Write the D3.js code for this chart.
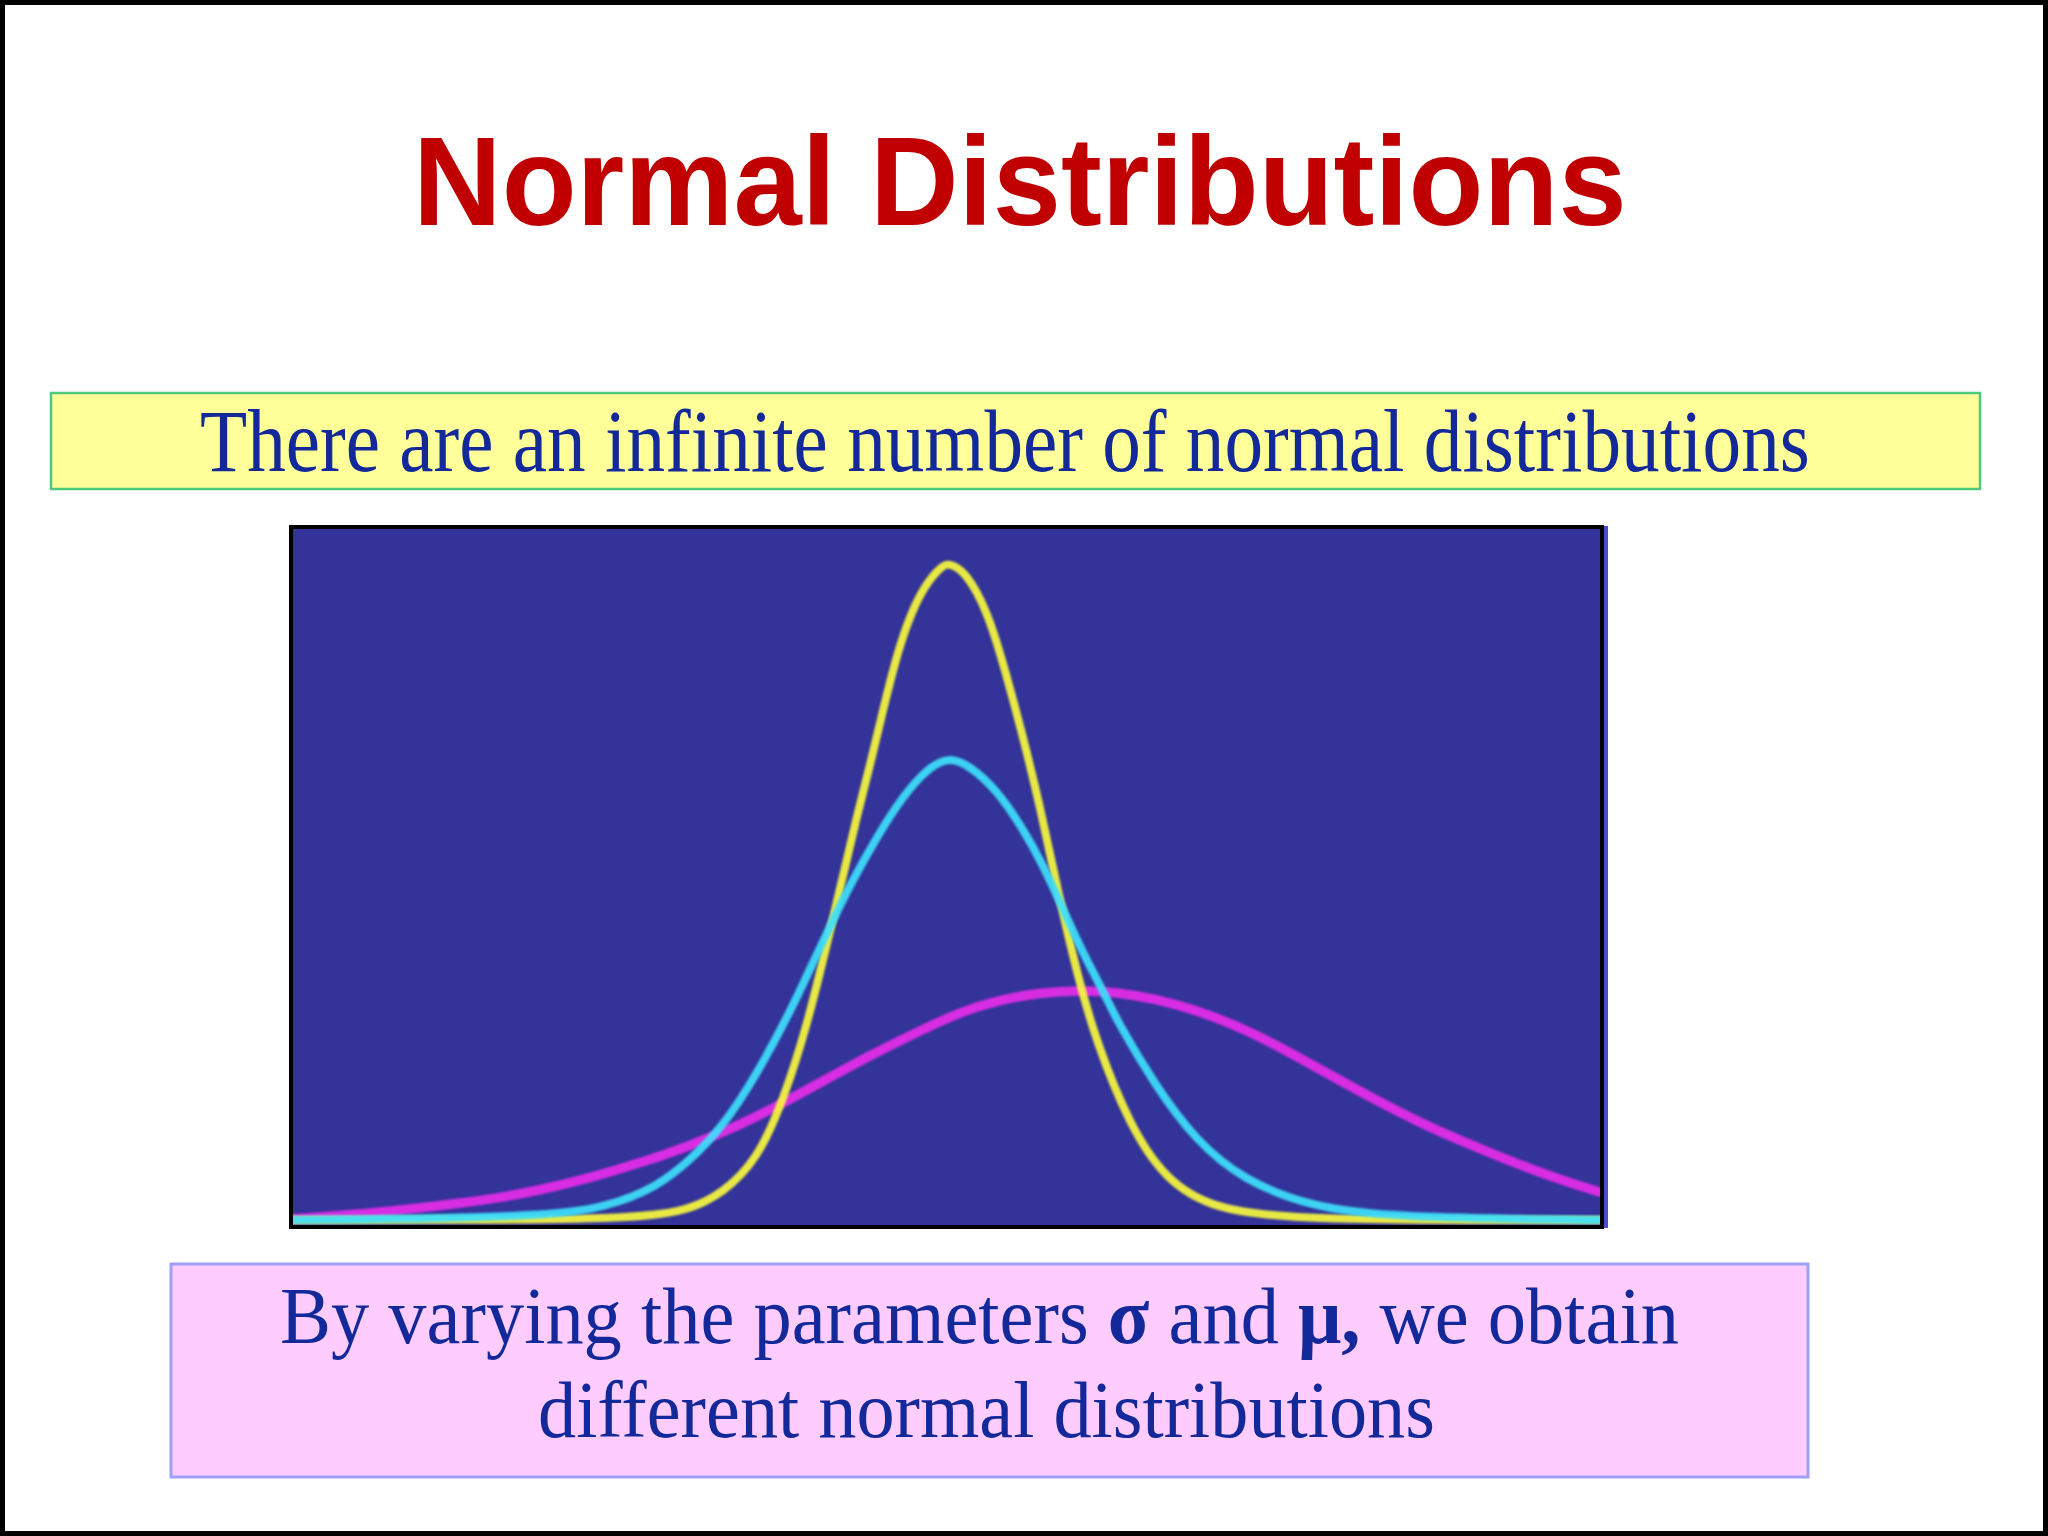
<!DOCTYPE html>
<html>
<head>
<meta charset="utf-8">
<script src="https://cdnjs.cloudflare.com/ajax/libs/d3/7.8.5/d3.min.js"></script>
<style>
  body { margin: 0; background: #fff; }
</style>
</head>
<body>
<div id="slide"></div>
<script>

var title = "Normal Distributions";
var topNote = "There are an infinite number of normal distributions";
var bottomNote1 = ["By varying the parameters ", "σ", " and ", "μ,", " we obtain"];
var bottomNote2 = "different normal distributions";

// curves, x and height both in 0..100
var yellowX = [0, 16, 26.7, 30.5, 33.0, 35.6, 37.6, 39.4, 41.2, 42.2, 43.2, 44.2, 45.2, 46.1, 47.1, 48.4, 49.7, 50.2, 51.5, 53.2, 54.5, 55.8, 57.2, 58.5, 60.1, 61.5, 64.0, 66.7, 70.5, 76.4, 85, 100];
var yellowY = [0, 0, 0.3, 1.5, 4.0, 8.8, 17.6, 28.4, 42.8, 51.0, 59.3, 66.8, 75.0, 82.0, 88.2, 93.5, 96.2, 96.6, 95.4, 89.4, 80.9, 71.6, 60.6, 48.5, 35.3, 26.0, 13.9, 5.9, 1.5, 0.3, 0, 0];

var cyanX = [0, 19.1, 24.2, 28.0, 30.5, 33.0, 35.6, 38.1, 39.9, 41.6, 42.9, 44.5, 46.1, 48.1, 50.1, 51.8, 53.8, 55.8, 57.5, 58.8, 60.4, 62.1, 63.0, 66.0, 69.0, 72.6, 77.9, 83.8, 100];
var cyanY = [0, 0.4, 1.9, 4.9, 8.8, 13.7, 21.5, 30.5, 38.0, 45.0, 50.0, 55.5, 60.6, 65.6, 68.3, 66.8, 63.4, 57.8, 51.8, 46.2, 39.4, 33.2, 29.4, 19.6, 11.8, 5.9, 1.9, 0.4, 0];

var magentaX = [0, 5.7, 11.4, 15.5, 19.1, 22.9, 26.7, 30.5, 34.3, 36.8, 40.6, 44.4, 48.2, 51.1, 54.1, 57.1, 60.2, 63.0, 66.0, 69.0, 72.0, 74.9, 77.9, 80.9, 83.8, 86.8, 89.8, 92.8, 96.4, 100];
var magentaY = [0.15, 0.9, 2.1, 3.1, 4.4, 6.2, 8.4, 10.9, 14.0, 16.4, 20.4, 24.4, 28.0, 30.6, 32.4, 33.4, 33.8, 33.5, 32.5, 30.9, 28.7, 26.0, 22.8, 19.6, 16.6, 13.7, 11.2, 8.8, 6.2, 4.0];

var series = [
	{name: "magenta", xs: magentaX, ys: magentaY, color: "#e62be9", width: 9.5},
	{name: "yellow", xs: yellowX, ys: yellowY, color: "#f7f73c", width: 8},
	{name: "cyan", xs: cyanX, ys: cyanY, color: "#3ee0fc", width: 8}
];

var textBlue = "#13299a";

var svg = d3.select("#slide")
	.append("svg")
	.attr("width", 2048)
	.attr("height", 1536);

svg.append("rect")
	.attr("x", 2.5)
	.attr("y", 2.5)
	.attr("width", 2043)
	.attr("height", 1531)
	.style("fill", "#fff")
	.style("stroke", "#000")
	.style("stroke-width", 5);

// squeeze a text so it runs from x0 to x1
function fit(t, x0, x1, base) {
	var len = t.node().getComputedTextLength();
	t.attr("transform", "translate(" + x0 + "," + base + ") scale(" + ((x1 - x0) / len) + ",1)");
}

var t = svg.append("text")
	.style("font-family", "'Liberation Sans', Arial, sans-serif")
	.style("font-weight", "bold")
	.style("font-size", "127px")
	.style("fill", "#c00000")
	.text(title);
fit(t, 413, 1627, 225);

svg.append("rect")
	.attr("x", 51)
	.attr("y", 393)
	.attr("width", 1929)
	.attr("height", 96)
	.style("fill", "#ffff99")
	.style("stroke", "#4cc97c")
	.style("stroke-width", 2.5);

t = svg.append("text")
	.style("font-family", "'Liberation Serif', 'Times New Roman', serif")
	.style("font-size", "89px")
	.style("fill", textBlue)
	.text(topNote);
fit(t, 200, 1810, 471);

// chart
var x = d3.scaleLinear().domain([0, 100]).range([290, 1602]);
var y = d3.scaleLinear().domain([0, 100]).range([1220, 540]);

svg.append("rect")
	.attr("x", 1604)
	.attr("y", 526)
	.attr("width", 4)
	.attr("height", 702)
	.style("fill", "#4a4ad2");

svg.append("rect")
	.attr("x", 291)
	.attr("y", 527)
	.attr("width", 1311)
	.attr("height", 700)
	.style("fill", "#333399")
	.style("stroke", "#000")
	.style("stroke-width", 4);

var defs = svg.append("defs");
defs.append("clipPath")
	.attr("id", "plot")
	.append("rect")
	.attr("x", 293)
	.attr("y", 529)
	.attr("width", 1307)
	.attr("height", 696);
defs.append("filter")
	.attr("id", "soft")
	.append("feGaussianBlur")
	.attr("stdDeviation", 0.8);

var line = d3.line()
	.x(function(d){ return x(d[0]); })
	.y(function(d){ return y(d[1]); })
	.curve(d3.curveBasis);

svg.append("g")
	.attr("clip-path", "url(#plot)")
	.selectAll("path")
	.data(series)
	.enter()
	.append("path")
	.attr("class", function(d){ return d.name; })
	.attr("d", function(d){
		return line(d.xs.map(function(v, i){ return [v, d.ys[i]]; }));
	})
	.attr("filter", "url(#soft)")
	.style("fill", "none")
	.style("stroke", function(d){ return d.color; })
	.style("stroke-width", function(d){ return d.width; })
	.style("stroke-opacity", 0.92)
	.style("stroke-linejoin", "round");

// bottom box
svg.append("rect")
	.attr("x", 171)
	.attr("y", 1264)
	.attr("width", 1637)
	.attr("height", 213)
	.style("fill", "#ffccff")
	.style("stroke", "#9f9ff5")
	.style("stroke-width", 3);

t = svg.append("text")
	.style("font-family", "'Liberation Serif', 'Times New Roman', serif")
	.style("font-size", "81px")
	.style("fill", textBlue);
t.selectAll("tspan")
	.data(bottomNote1)
	.enter()
	.append("tspan")
	.style("font-weight", function(d, i){ return i % 2 ? "bold" : "normal"; })
	.text(function(d){ return d; });
fit(t, 280, 1679, 1343);

t = svg.append("text")
	.style("font-family", "'Liberation Serif', 'Times New Roman', serif")
	.style("font-size", "81px")
	.style("fill", textBlue)
	.text(bottomNote2);
fit(t, 538, 1435, 1437);

</script>
</body>
</html>
